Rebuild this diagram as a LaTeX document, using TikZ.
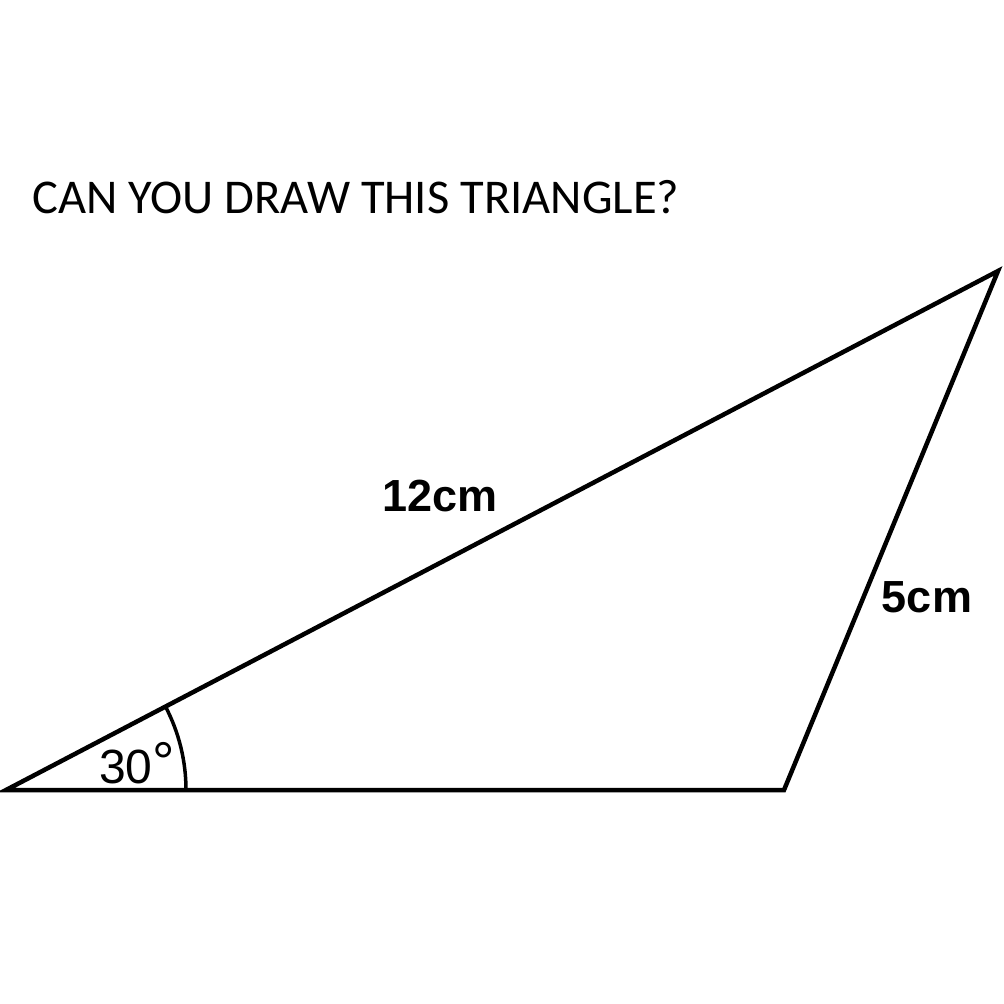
\documentclass[tikz,border=0pt]{standalone}
\usepackage{fontspec}
\setmainfont{Liberation Sans}
\newfontfamily\titlefont{Carlito}
\begin{document}
\begin{tikzpicture}[x=1pt,y=-1pt,
  side/.style={line width=4.5pt,line join=miter,line cap=butt},
  lbl/.style={inner sep=0pt,font=\fontsize{45}{50}\selectfont\bfseries},
  ttl/.style={inner sep=0pt,anchor=base west,font=\fontsize{48.5}{52}\selectfont\titlefont}]
\useasboundingbox[fill=white] (0,0) rectangle (1004,1004);
\coordinate (A) at (6,790);
\coordinate (B) at (784,790);
\coordinate (C) at (998,271);
\draw[side] (A) -- (B) -- (C) -- cycle;
\draw[line width=3.5pt] ([xshift=180pt]A) arc[start angle=0,end angle=27.5,radius=180pt];
\node[ttl] (title) at (32,213) {CAN YOU DRAW THIS TRIANGLE?};
\node[lbl] (l12) at (440,496) {12cm};
\node[lbl] (l5) at (927,597) {5cm};
\node[inner sep=0pt,anchor=base west,font=\fontsize{48}{52}\selectfont] (ang) at (99,783) {30\raisebox{2pt}{\fontsize{56}{60}\selectfont°}};
\end{tikzpicture}
\end{document}
